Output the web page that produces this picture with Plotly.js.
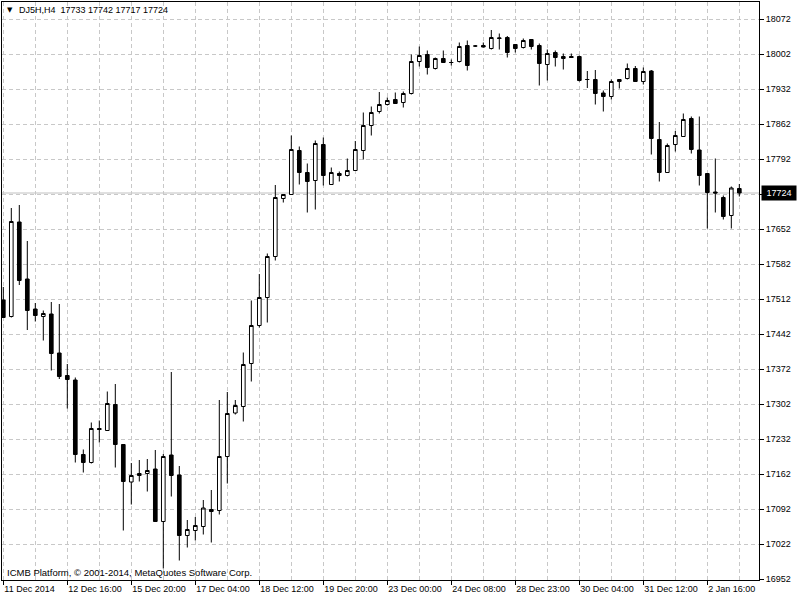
<!DOCTYPE html>
<html>
<head>
<meta charset="utf-8">
<script src="https://cdn.plot.ly/plotly-3.0.1.min.js"></script>
<style>html,body{margin:0;padding:0;background:#fff;}#chart{width:800px;height:600px;}</style>
</head>
<body>
<div id="chart"></div>
<script>
const openP = [17510,17477,17666,17552,17492,17477,17482,17404,17359,17350,17201,17185,17253,17249,17301,17221,17146,17159,17163,17172,17067,17200,17160,17039,17049,17057,17091,17089,17197,17284,17297,17383,17459,17515,17597,17713,17721,17809,17765,17749,17821,17741,17763,17759,17769,17809,17859,17887,17901,17911,17905,17923,17987,18001,17973,17993,17985,17987,18019,18018,18019,18013,18033,18035,18021,18015,18031,18019,17981,18005,17993,17997,17997,17951,17951,17924,17917,17947,17953,17973,17947,17968,17831,17765,17821,17837,17873,17810,17763,17726,17715,17679,17733];
const highP = [17536,17694,17700,17628,17504,17489,17506,17502,17382,17355,17211,17265,17269,17327,17342,17221,17184,17190,17192,17210,17202,17366,17178,17070,17076,17110,17130,17310,17326,17310,17405,17509,17562,17603,17740,17722,17839,17817,17783,17829,17835,17775,17767,17793,17828,17885,17897,17926,17915,17925,17927,18001,18017,18009,17995,18009,17991,18025,18029,18020,18025,18050,18043,18038,18022,18033,18031,18023,18011,18009,18003,18003,17999,17968,17970,17929,17951,17951,17983,17978,17975,17970,17866,17823,17848,17883,17877,17877,17763,17793,17719,17737,17742];
const lowP = [17474,17475,17540,17450,17467,17429,17369,17352,17293,17185,17165,17183,17225,17249,17175,17049,17101,17147,17127,17067,16973,17117,16989,17015,17029,17041,17025,17081,17143,17281,17267,17347,17455,17465,17589,17705,17720,17741,17685,17691,17739,17741,17747,17757,17769,17791,17839,17883,17899,17903,17895,17921,17977,17961,17971,17985,17979,17985,17969,18016,18015,18011,18011,17995,18005,18013,18011,17939,17949,17977,17971,17995,17947,17934,17901,17887,17911,17933,17951,17947,17941,17801,17747,17765,17807,17837,17803,17739,17653,17685,17671,17653,17717];
const closeP = [17475,17667,17549,17489,17479,17483,17403,17357,17351,17201,17185,17253,17251,17303,17221,17147,17159,17163,17169,17067,17197,17159,17039,17051,17059,17094,17087,17197,17283,17299,17381,17459,17515,17597,17715,17721,17811,17765,17747,17823,17759,17765,17759,17769,17811,17859,17885,17901,17909,17903,17923,17987,17999,17975,17993,17985,17985,18017,17979,18018,18016,18035,18034,18005,18013,18029,18017,17983,18003,17995,17997,17995,17949,17951,17923,17917,17947,17951,17973,17947,17967,17833,17765,17819,17839,17871,17811,17759,17725,17724,17677,17734,17724];

const xTickIdx = [0,8,16,24,32,40,48,56,64,72,80,88];
const xTickText = ["11 Dec 2014","12 Dec 16:00","15 Dec 20:00","17 Dec 04:00","18 Dec 12:00","19 Dec 20:00","23 Dec 00:00","24 Dec 08:00","28 Dec 23:00","30 Dec 04:00","31 Dec 12:00","2 Jan 16:00"];
const yTickVals = [16952,17022,17092,17162,17232,17302,17372,17442,17512,17582,17652,17722,17792,17862,17932,18002,18072];
const yTickText = ["16952","17022","17092","17162","17232","17302","17372","17442","17512","17582","17652","","17792","17862","17932","18002","18072"];

const symbol = "DJ5H,H4";
const lastPrice = 17724;
const headerVals = [17733, 17742, 17717, 17724];
const copyright = "ICMB Platform, \u00a9 2001-2014, MetaQuotes Software Corp.";

const xIdx = openP.map((_, i) => i);
const FONT = "Tahoma, 'Liberation Sans', Arial, sans-serif";
const GRID = "#c8c8c8";

const trace = {
  type: "candlestick",
  x: xIdx, open: openP, high: highP, low: lowP, close: closeP,
  increasing: {line: {color: "#000", width: 1}, fillcolor: "#ffffff"},
  decreasing: {line: {color: "#000", width: 1}, fillcolor: "#000000"},
  whiskerwidth: 0,
  hoverinfo: "skip"
};

const layout = {
  width: 800, height: 600,
  margin: {l: 2, r: 41, t: 2, b: 20, pad: 0},
  paper_bgcolor: "#fff", plot_bgcolor: "#fff",
  showlegend: false,
  boxgap: 0.35,
  font: {family: FONT, size: 9, color: "#000"},
  xaxis: {
    range: [-0.1625, 94.46],
    rangeslider: {visible: false},
    tickmode: "array", tickvals: xTickIdx, ticktext: xTickText,
    ticks: "outside", ticklen: 4, tickcolor: "#000", tickwidth: 1,
    ticklabelposition: "outside right",
    tickfont: {family: FONT, size: 9, color: "#000"},
    showgrid: true, gridcolor: GRID, griddash: "4px,3px", gridwidth: 1,
    minor: {tickmode: "linear", tick0: 0, dtick: 4, showgrid: true, gridcolor: GRID, griddash: "4px,3px", gridwidth: 1, ticks: ""},
    showline: true, linecolor: "#000", linewidth: 1, mirror: true,
    zeroline: false, fixedrange: true
  },
  yaxis: {
    side: "right",
    range: [16950, 18106],
    tickmode: "array", tickvals: yTickVals, ticktext: yTickText,
    ticks: "outside", ticklen: 4, tickcolor: "#000", tickwidth: 1,
    tickfont: {family: FONT, size: 9, color: "#000"},
    showgrid: true, gridcolor: GRID, griddash: "4px,3px", gridwidth: 1,
    showline: true, linecolor: "#000", linewidth: 1, mirror: true,
    zeroline: false, fixedrange: true
  },
  shapes: [{
    type: "line", xref: "paper", x0: 0, x1: 1, yref: "y", y0: lastPrice, y1: lastPrice,
    line: {color: "#c0c0c0", width: 1}, layer: "below"
  }],
  annotations: [
    {xref: "paper", yref: "y", x: 1, y: lastPrice, xanchor: "left", yanchor: "middle", xshift: 2,
     text: String(lastPrice), showarrow: false, bgcolor: "#000", borderpad: 1, width: 32, height: 12, align: "center",
     font: {family: FONT, size: 9, color: "#fff"}},
    {xref: "paper", yref: "paper", x: 0, y: 1, xanchor: "left", yanchor: "top", xshift: 3, yshift: -2,
     text: "\u25BC", showarrow: false, font: {family: "DejaVu Sans", size: 7, color: "#000"}},
    {xref: "paper", yref: "paper", x: 0, y: 1, xanchor: "left", yanchor: "top", xshift: 15, yshift: -1,
     text: symbol + "  " + headerVals.join(" "), showarrow: false, font: {family: FONT, size: 9, color: "#000"}},
    {xref: "paper", yref: "paper", x: 0, y: 0, xanchor: "left", yanchor: "bottom", xshift: 3, yshift: 0,
     text: copyright, showarrow: false, font: {family: FONT, size: 9.5, color: "#000"}}
  ]
};

Plotly.newPlot("chart", [trace], layout, {displayModeBar: false, staticPlot: true});
</script>
</body>
</html>
